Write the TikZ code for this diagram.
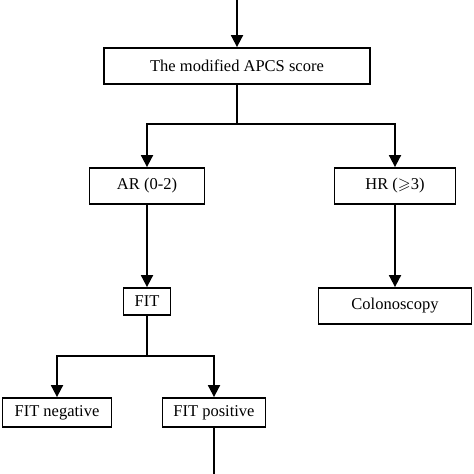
\documentclass[tikz,border=0pt]{standalone}
\usepackage{fontspec}
\usepackage{amssymb}
\setmainfont{Liberation Serif}
\usetikzlibrary{arrows.meta}
\begin{document}
\begin{tikzpicture}[x=1bp,y=-1bp,
  box/.style={draw,line width=1.8bp,minimum height=36bp,inner sep=0pt,font=\fontsize{16.5bp}{19bp}\selectfont},
  ln/.style={line width=1.8bp},
  arr/.style={ln,-{Triangle[width=12bp,length=12bp]}}]
\useasboundingbox (0,0) rectangle (474,474);
\node[box,minimum width=266bp] (score) at (237,66) {The modified APCS score};
\node[box,minimum width=115bp] (ar) at (147,186) {AR (0-2)};
\node[box,minimum width=121bp] (hr) at (395,186) {HR ($\geqslant$3)};
\node[box,minimum width=47bp,minimum height=27bp] (fit) at (147,301.5) {FIT};
\node[box,minimum width=153bp] (colon) at (395,306) {Colonoscopy};
\node[box,minimum width=109bp,minimum height=29bp] (neg) at (57,412.5) {FIT negative};
\node[box,minimum width=103bp,minimum height=29bp] (pos) at (214,412.5) {FIT positive};
\coordinate (top) at (237,0);
\coordinate (b1) at (237,124);
\coordinate (b2) at (147,356);
\coordinate (bot) at (214,474);
\draw[arr] (top) -- (score.north);
\draw[ln] (score.south) -- (b1);
\draw[arr] (b1) -| (ar.north);
\draw[arr] (b1) -| (hr.north);
\draw[arr] (ar.south) -- (fit.north);
\draw[arr] (hr.south) -- (colon.north);
\draw[ln] (fit.south) -- (b2);
\draw[arr] (b2) -| (neg.north);
\draw[arr] (b2) -| (pos.north);
\draw[ln] (pos.south) -- (bot);
\end{tikzpicture}
\end{document}
